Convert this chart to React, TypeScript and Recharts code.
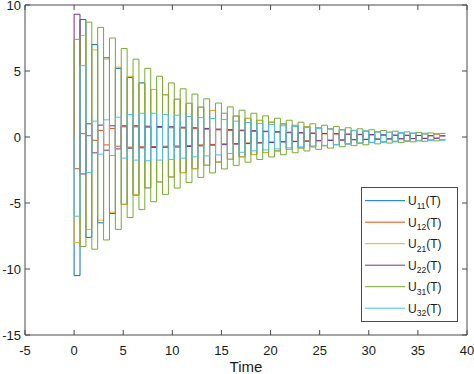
import React from 'react';
import { LineChart, Line, XAxis, YAxis, ReferenceLine, Legend, Label } from 'recharts';

// sample instants (start of each hold interval) and end of the last interval
const TIMES = [0, 0.6, 1.2, 1.8, 2.4, 3, 3.6, 4.2, 4.8, 5.4, 6, 6.6, 7.2, 7.8, 8.4, 9, 9.6, 10.2, 10.8, 11.4, 12, 12.6, 13.2, 13.8, 14.4, 15, 15.6, 16.2, 16.8, 17.4, 18, 18.6, 19.2, 19.8, 20.4, 21, 21.6, 22.2, 22.8, 23.4, 24, 24.6, 25.2, 25.8, 26.4, 27, 27.6, 28.2, 28.8, 29.4, 30, 30.6, 31.2, 31.8, 32.4, 33, 33.6, 34.2, 34.8, 35.4, 36, 36.6, 37.2];
const END_TIME = 37.8;

const U11 = [-10.5, 8.9, -7.6, 7.0, -6.5, 6.0, -5.8, 5.2, -5.1, 4.5, -4.4, 4.1, -3.85, 3.6, -3.4, 3.2, -3.03, 2.86, -2.7, 2.55, -2.4, 2.26, -2.14, 2.01, -1.9, 1.79, -1.69, 1.59, -1.5, 1.41, -1.33, 1.26, -1.18, 1.12, -1.05, 0.99, -0.94, 0.88, -0.83, 0.78, -0.74, 0.7, -0.66, 0.62, -0.58, 0.55, -0.52, 0.49, -0.46, 0.44, -0.41, 0.38, -0.36, 0.34, -0.33, 0.3, -0.29, 0.27, -0.26, 0.24, -0.23, 0.21, -0.2];
const U12 = [-2.4, 0.25, 0.1, -0.25, 0.5, -0.6, 0.65, -0.7, 0.77, -0.77, 0.77, -0.74, 0.74, -0.72, 0.72, -0.7, 0.7, -0.68, 0.67, -0.65, 0.63, -0.6, 0.59, -0.56, 0.54, -0.52, 0.5, -0.49, 0.47, -0.45, 0.43, -0.41, 0.4, -0.38, 0.36, -0.34, 0.32, -0.32, 0.3, -0.29, 0.27, -0.26, 0.24, -0.23, 0.23, -0.22, 0.2, -0.19, 0.18, -0.17, 0.16, -0.15, 0.14, -0.14, 0.13, -0.13, 0.12, -0.11, 0.11, -0.1, 0.09, -0.09, 0.08];
const U21 = [-8.0, 7.7, -7.0, 6.6, -6.3, 5.9, -5.7, 5.3, -5.1, 4.6, -4.35, 4.05, -3.85, 3.6, -3.4, 3.2, -3.03, 2.86, -2.7, 2.55, -2.4, 2.26, -2.14, 2.01, -1.9, 1.79, -1.69, 1.59, -1.5, 1.41, -1.33, 1.26, -1.18, 1.12, -1.05, 0.99, -0.94, 0.88, -0.83, 0.78, -0.74, 0.7, -0.66, 0.62, -0.58, 0.55, -0.52, 0.49, -0.46, 0.44, -0.41, 0.38, -0.36, 0.34, -0.33, 0.3, -0.29, 0.27, -0.26, 0.24, -0.23, 0.21, -0.2];
const U22 = [9.3, -2.8, 1.0, -1.2, 0.9, -1.0, 0.85, -0.9, 0.85, -0.85, 0.85, -0.82, 0.82, -0.8, 0.8, -0.78, 0.78, -0.76, 0.74, -0.72, 0.7, -0.67, 0.65, -0.62, 0.6, -0.58, 0.56, -0.54, 0.52, -0.5, 0.48, -0.46, 0.44, -0.42, 0.4, -0.38, 0.36, -0.35, 0.33, -0.32, 0.3, -0.29, 0.27, -0.26, 0.25, -0.24, 0.22, -0.21, 0.2, -0.19, 0.18, -0.17, 0.16, -0.15, 0.14, -0.14, 0.13, -0.12, 0.12, -0.11, 0.1, -0.1, 0.09];
const U31 = [7.4, -8.3, 8.7, -8.5, 8.3, -7.8, 7.5, -7.0, 6.7, -6.1, 5.9, -5.5, 5.2, -4.9, 4.6, -4.35, 4.1, -3.87, 3.65, -3.44, 3.25, -3.06, 2.89, -2.72, 2.57, -2.42, 2.28, -2.15, 2.03, -1.91, 1.8, -1.7, 1.6, -1.51, 1.42, -1.34, 1.27, -1.19, 1.12, -1.06, 1.0, -0.94, 0.89, -0.84, 0.79, -0.74, 0.7, -0.66, 0.62, -0.59, 0.55, -0.52, 0.49, -0.46, 0.44, -0.41, 0.39, -0.37, 0.35, -0.33, 0.31, -0.29, 0.27];
const U32 = [-6.0, 5.4, -2.7, 1.2, -1.3, 1.3, -1.4, 1.5, -1.6, 1.7, -1.75, 1.8, -1.8, 1.8, -1.75, 1.7, -1.7, 1.65, -1.6, 1.55, -1.5, 1.47, -1.43, 1.4, -1.36, 1.32, -1.25, 1.2, -1.16, 1.1, -1.05, 1.02, -0.98, 0.94, -0.9, 0.85, -0.82, 0.79, -0.75, 0.72, -0.68, 0.66, -0.63, 0.6, -0.58, 0.55, -0.53, 0.51, -0.48, 0.46, -0.43, 0.42, -0.4, 0.38, -0.37, 0.34, -0.33, 0.31, -0.3, 0.29, -0.27, 0.26, -0.25];

const X_TICKS = [-5, 0, 5, 10, 15, 20, 25, 30, 35, 40];
const Y_TICKS = [-15, -10, -5, 0, 5, 10];
const X_LABEL = 'Time';

const SERIES = [
  { key: 'u11', sub: '11', values: U11, color: '#0072BD' },
  { key: 'u12', sub: '12', values: U12, color: '#D95319' },
  { key: 'u21', sub: '21', values: U21, color: '#EDB120' },
  { key: 'u22', sub: '22', values: U22, color: '#7E2F8E' },
  { key: 'u31', sub: '31', values: U31, color: '#77AC30' },
  { key: 'u32', sub: '32', values: U32, color: '#4DBEEE' },
];

// table for the chart: start from zero at t=0, one row per hold interval, closing row
const data: any[] = [];
{
  const first: any = { t: 0 };
  SERIES.forEach((s) => (first[s.key] = 0));
  data.push(first);
  TIMES.forEach((t, i) => {
    const row: any = { t };
    SERIES.forEach((s) => (row[s.key] = s.values[i]));
    data.push(row);
  });
  const last: any = { t: END_TIME };
  SERIES.forEach((s) => (last[s.key] = s.values[s.values.length - 1]));
  data.push(last);
}

const W = 474;
const H = 374;
const PLOT = { left: 25, right: 467, top: 5, bottom: 335 };
const AXIS = '#4a4a4a';
const TEXT = '#1a1a1a';
const FONT = '"Liberation Sans", Arial, Helvetica, sans-serif';

const YTick = (props: any) => {
  const { y, payload } = props;
  return (
    <g>
      <line x1={PLOT.left} x2={PLOT.left + 5} y1={y} y2={y} stroke={AXIS} strokeWidth={1} />
      <line x1={PLOT.right - 5} x2={PLOT.right} y1={y} y2={y} stroke={AXIS} strokeWidth={1} />
      <text x={PLOT.left - 4} y={y} dy={4.6} textAnchor="end" fontSize={13} fontFamily={FONT} fill={TEXT}>
        {String(payload.value)}
      </text>
    </g>
  );
};

const XTick = (props: any) => {
  const { x, payload } = props;
  return (
    <g>
      <line x1={x} x2={x} y1={PLOT.bottom} y2={PLOT.bottom - 5} stroke={AXIS} strokeWidth={1} />
      <line x1={x} x2={x} y1={PLOT.top} y2={PLOT.top + 5} stroke={AXIS} strokeWidth={1} />
      <text x={x} y={355} textAnchor="middle" fontSize={13} fontFamily={FONT} fill={TEXT}>
        {String(payload.value)}
      </text>
    </g>
  );
};

const LegendBox = () => (
  <div
    style={{
      width: 97,
      height: 135,
      boxSizing: 'border-box',
      border: `1px solid ${AXIS}`,
      background: '#fff',
    }}
  >
    <svg width={95} height={133} style={{ display: 'block' }}>
      {SERIES.map((s, i) => {
        const cy = 12.7 + i * 21.5;
        return (
          <g key={s.key}>
            <line x1={3} x2={43} y1={cy} y2={cy} stroke={s.color} strokeWidth={1} />
            <text x={46} y={cy + 4.3} fontSize={12} fontFamily={FONT} fill={TEXT}>
              U
              <tspan fontSize={8.5} dy={3.5}>{s.sub}</tspan>
              <tspan dy={-3.5}>(T)</tspan>
            </text>
          </g>
        );
      })}
    </svg>
  </div>
);

export default function App() {
  return (
    <div style={{ position: 'absolute', left: 0, top: 0, width: W, height: H, background: '#fff' }}>
      <LineChart width={W} height={H} data={data} margin={{ top: PLOT.top, right: W - PLOT.right, left: 0, bottom: 0 }}>
        <XAxis
          type="number"
          dataKey="t"
          domain={[-5, 40]}
          ticks={X_TICKS}
          interval={0}
          allowDataOverflow
          height={H - PLOT.bottom}
          tickLine={false}
          axisLine={{ stroke: AXIS, strokeWidth: 1 }}
          tick={XTick}
        >
          <Label
            content={() => (
              <text x={246} y={372} textAnchor="middle" fontSize={15} fontFamily={FONT} fill={TEXT}>
                {X_LABEL}
              </text>
            )}
          />
        </XAxis>
        <YAxis
          type="number"
          domain={[-15, 10]}
          ticks={Y_TICKS}
          interval={0}
          allowDataOverflow
          width={PLOT.left}
          tickLine={false}
          axisLine={{ stroke: AXIS, strokeWidth: 1 }}
          tick={YTick}
        />
        <ReferenceLine y={10} stroke={AXIS} strokeWidth={1} />
        <ReferenceLine x={40} stroke={AXIS} strokeWidth={1} />
        {SERIES.map((s) => (
          <Line
            key={s.key}
            dataKey={s.key}
            type="stepAfter"
            stroke={s.color}
            strokeWidth={1}
            dot={false}
            activeDot={false}
            isAnimationActive={false}
          />
        ))}
        <Legend
          layout="vertical"
          align="center"
          verticalAlign="middle"
          wrapperStyle={{ left: 361, top: 187, width: 97, height: 135 }}
          content={() => <LegendBox />}
        />
      </LineChart>
    </div>
  );
}
